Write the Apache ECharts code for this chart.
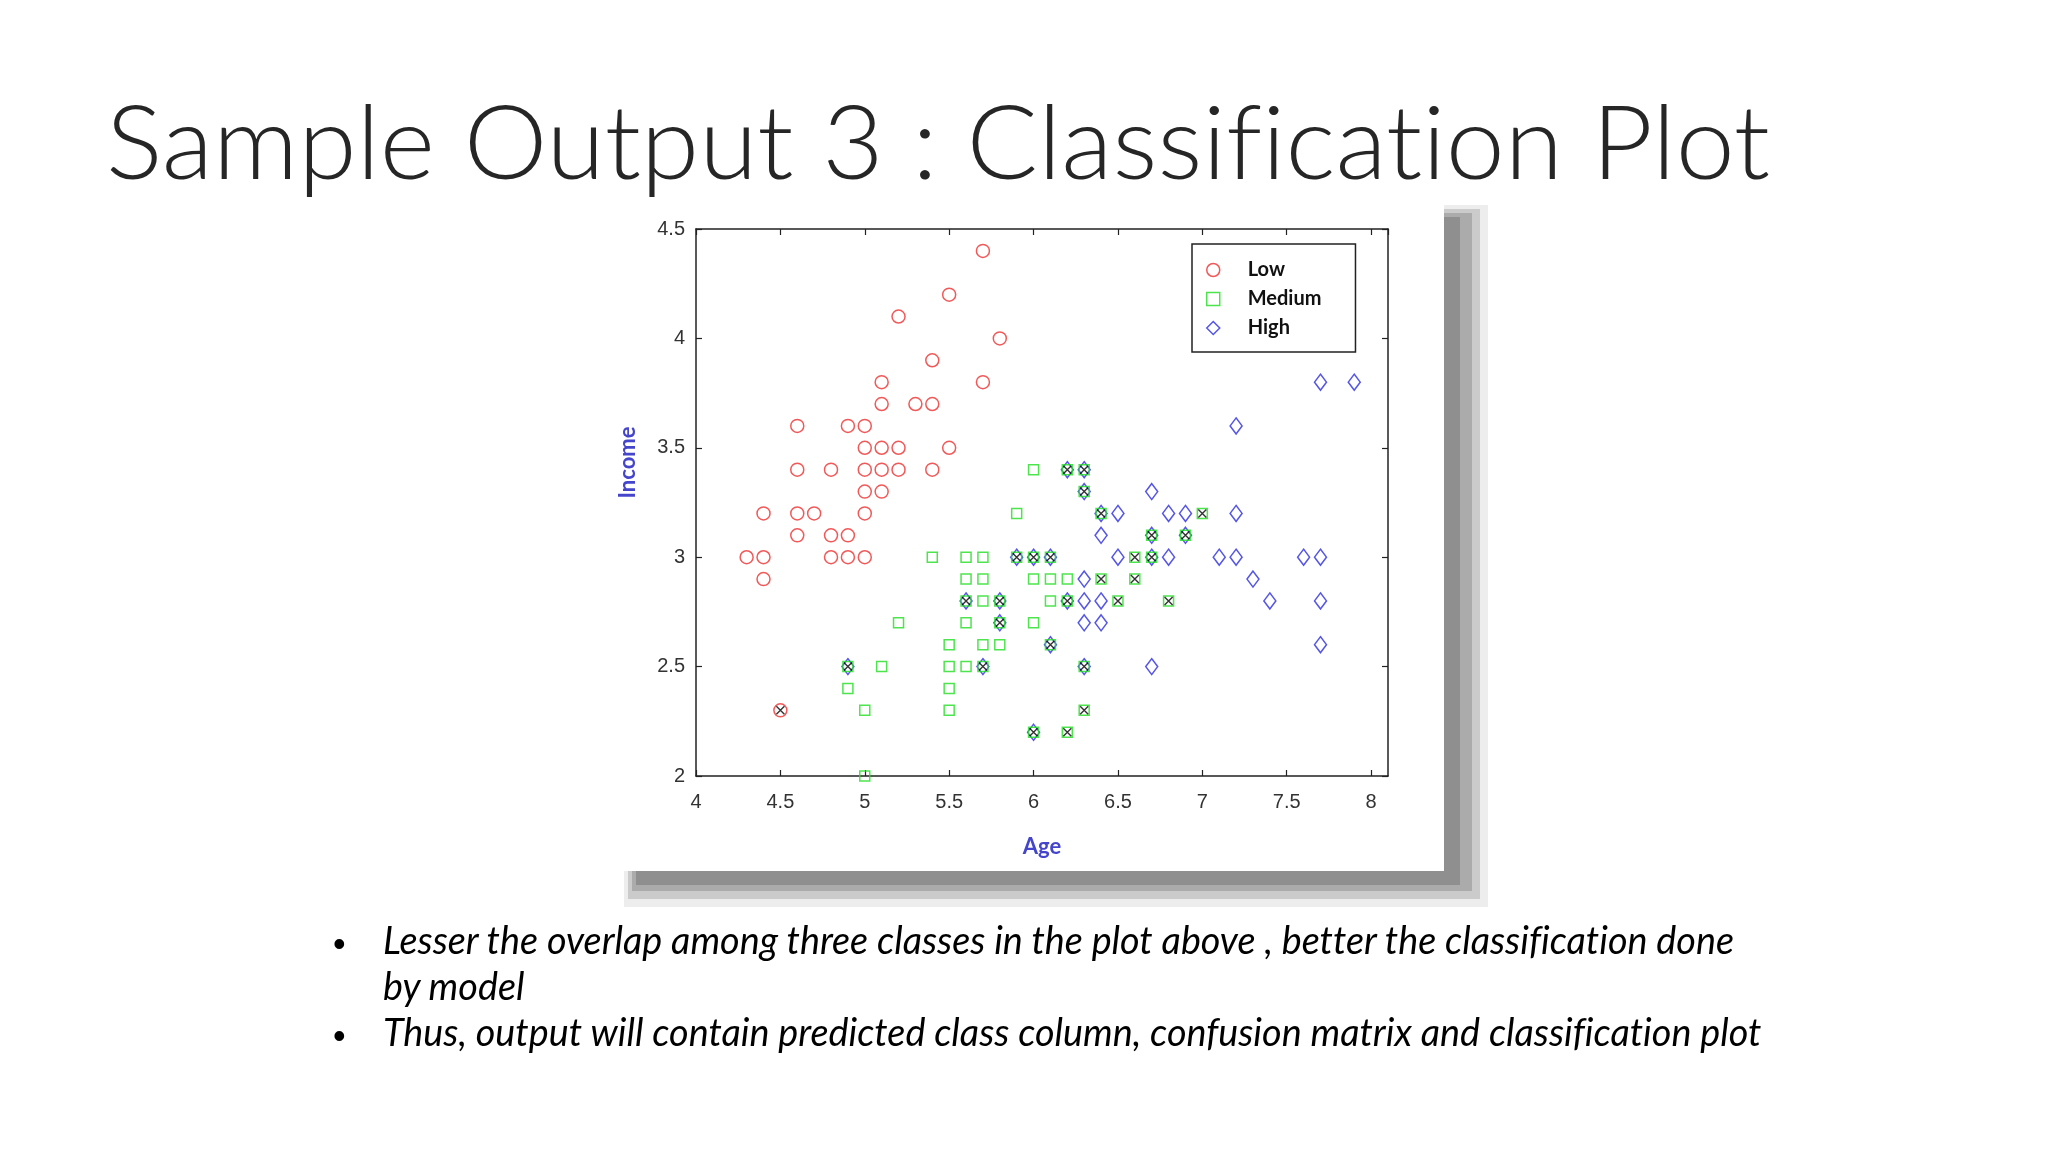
<!DOCTYPE html>
<html>
<head>
<meta charset="utf-8">
<script src="https://cdn.jsdelivr.net/npm/echarts@6/dist/echarts.min.js"></script>
<style>
html,body{margin:0;padding:0;background:#fff;}
#wrap{position:relative;width:2048px;height:1152px;overflow:hidden;}
#chart{position:absolute;left:0;top:0;width:2048px;height:1152px;}
.txt{position:absolute;white-space:nowrap;font-family:Lato;line-height:1;
     font-variant-ligatures:none;font-feature-settings:"liga" 0,"dlig" 0,"clig" 0;transform-origin:0 0;}
#title{font-weight:300;font-size:102px;color:#262626;}
.bl{font-style:italic;font-size:39px;color:#000;}
.dot{position:absolute;font-family:'Liberation Sans';font-size:36px;line-height:1;color:#000;}
</style>
</head>
<body>
<div id="wrap">
<div id="chart"></div>
</div>
<script>
// ---- Data (Age, Income) ----
const classNames = ['Low', 'Medium', 'High'];
const xTicks = [4, 4.5, 5, 5.5, 6, 6.5, 7, 7.5, 8];
const yTicks = [2, 2.5, 3, 3.5, 4, 4.5];

const lowPoints = [
  [5.7,4.4],[5.5,4.2],[5.2,4.1],[5.8,4.0],[5.4,3.9],[5.7,3.8],[5.1,3.8],[5.1,3.7],[5.3,3.7],[5.4,3.7],
  [4.6,3.6],[4.9,3.6],[5.0,3.6],[5.0,3.5],[5.1,3.5],[5.2,3.5],[5.5,3.5],[4.6,3.4],[4.8,3.4],[5.0,3.4],
  [5.1,3.4],[5.2,3.4],[5.4,3.4],[5.0,3.3],[5.1,3.3],[4.4,3.2],[4.6,3.2],[4.7,3.2],[5.0,3.2],[4.6,3.1],
  [4.8,3.1],[4.9,3.1],[4.3,3.0],[4.4,3.0],[4.8,3.0],[4.9,3.0],[5.0,3.0],[4.4,2.9]
];
const lowMisclassified = [[4.5,2.3]];

const mediumPoints = [
  [6.0,3.4],[5.9,3.2],[5.4,3.0],[5.6,3.0],[5.7,3.0],[5.6,2.9],[5.7,2.9],[6.0,2.9],[6.1,2.9],[6.2,2.9],
  [5.7,2.8],[6.1,2.8],[5.2,2.7],[5.6,2.7],[6.0,2.7],[5.5,2.6],[5.7,2.6],[5.8,2.6],[5.1,2.5],[5.5,2.5],
  [5.6,2.5],[4.9,2.4],[5.5,2.4],[5.0,2.3],[5.5,2.3],[5.0,2.0]
];
// medium points predicted as high (diamond + square + cross)
const mediumAsHigh = [
  [6.2,3.4],[6.3,3.4],[6.3,3.3],[6.4,3.2],[6.7,3.1],[6.9,3.1],[5.9,3.0],[6.0,3.0],[6.1,3.0],[6.7,3.0],
  [5.6,2.8],[5.8,2.8],[6.2,2.8],[5.8,2.7],[6.1,2.6],[4.9,2.5],[5.7,2.5],[6.3,2.5],[6.0,2.2]
];
// high points predicted as medium (square + cross)
const highAsMedium = [
  [7.0,3.2],[6.6,3.0],[6.4,2.9],[6.6,2.9],[6.5,2.8],[6.8,2.8],[6.3,2.3],[6.2,2.2]
];
const highPoints = [
  [7.7,3.8],[7.9,3.8],[7.2,3.6],[6.7,3.3],[6.5,3.2],[6.8,3.2],[6.9,3.2],[7.2,3.2],[6.4,3.1],[6.5,3.0],
  [6.8,3.0],[7.1,3.0],[7.2,3.0],[7.6,3.0],[7.7,3.0],[6.3,2.9],[7.3,2.9],[6.3,2.8],[6.4,2.8],[7.4,2.8],
  [7.7,2.8],[6.3,2.7],[6.4,2.7],[7.7,2.6],[6.7,2.5]
];

const titleText = 'Sample Output 3 : Classification Plot';
const bulletLines = [
  'Lesser the overlap among three classes in the plot above , better the classification done',
  'by model',
  'Thus, output will contain predicted class column, confusion matrix and classification plot'
];
const bulletOn = [true, false, true];
const xName = 'Age';
const yName = 'Income';

// ---- slide text (real HTML text, fitted to the reference widths) ----
const wrap = document.getElementById('wrap');
function addText(cls, text, left, top) {
  const d = document.createElement('div');
  d.className = 'txt ' + cls;
  d.textContent = text;
  d.style.left = left + 'px';
  d.style.top = top + 'px';
  wrap.appendChild(d);
  return d;
}
const titleEl = addText('', titleText, 106, 89);
titleEl.id = 'title';
const tw = titleEl.getBoundingClientRect().width;
titleEl.style.transform = 'scaleX(' + (1664 / tw) + ')';

const bulletTops = [920, 966, 1012];
let bScale = 1;
bulletLines.forEach((t, i) => {
  const el = addText('bl', t, 383, bulletTops[i]);
  if (i === 0) bScale = 1351 / el.getBoundingClientRect().width;
  el.style.transform = 'scaleX(' + bScale + ')';
  if (bulletOn[i]) {
    const dot = document.createElement('div');
    dot.className = 'dot';
    dot.textContent = '\u2022';
    dot.style.left = '333px';
    dot.style.top = (bulletTops[i] + 6) + 'px';
    wrap.appendChild(dot);
  }
});

// ---- chart ----
const RED = '#ee3030', GREEN = '#22dd22', BLUE = '#2a2ae0', LABEL_BLUE = '#4545cc';
const tickLabelStyle = { fontFamily: 'Liberation Sans', fontSize: 20, color: '#333' };
const isHalf = v => Math.abs(v * 2 - Math.round(v * 2)) < 1e-6;

const chart = echarts.init(document.getElementById('chart'), null, { renderer: 'canvas' });

const baseX = {
  type: 'value', min: xTicks[0], max: 8.1, interval: 0.5,
  axisLine: { show: true, lineStyle: { color: '#222', width: 1.5 } },
  axisTick: { show: true, inside: true, length: 6, lineStyle: { color: '#222', width: 1.2 } },
  splitLine: { show: false }
};
const baseY = {
  type: 'value', min: yTicks[0], max: yTicks[yTicks.length - 1], interval: 0.5,
  axisLine: { show: true, lineStyle: { color: '#222', width: 1.5 } },
  axisTick: { show: true, inside: true, length: 6, lineStyle: { color: '#222', width: 1.2 } },
  splitLine: { show: false }
};

const graphics = [
  // drop shadow of the figure panel
  { type: 'rect', z: -10, shape: { x: 624, y: 205, width: 864, height: 702 }, style: { fill: '#ededed' }, silent: true },
  { type: 'rect', z: -10, shape: { x: 628, y: 209, width: 852, height: 690 }, style: { fill: '#cbcbcb' }, silent: true },
  { type: 'rect', z: -10, shape: { x: 632, y: 213, width: 840, height: 678 }, style: { fill: '#ababab' }, silent: true },
  { type: 'rect', z: -10, shape: { x: 636, y: 217, width: 824, height: 668 }, style: { fill: '#8f8f8f' }, silent: true },
  // white figure panel
  { type: 'rect', z: -10, shape: { x: 605, y: 198, width: 839, height: 673 }, style: { fill: '#ffffff' }, silent: true }
];

const option = {
  animation: false,
  backgroundColor: '#ffffff',
  graphic: graphics,
  grid: { left: 696, top: 229, width: 692, height: 547, containLabel: false },
  legend: {
    orient: 'vertical', left: 1192, top: 244,
    data: [
      { name: classNames[0], icon: 'circle' },
      { name: classNames[1], icon: 'rect' },
      { name: classNames[2], icon: 'diamond' }
    ],
    itemWidth: 13, itemHeight: 13, itemGap: 9,
    padding: [16, 34, 14, 14],
    borderColor: '#222', borderWidth: 1.5, backgroundColor: '#fff',
    itemStyle: { borderWidth: 1.5 },
    textStyle: { fontFamily: 'Lato', fontWeight: 'bold', fontSize: 20, color: '#111', padding: [0, 0, 0, 23] },
    selectedMode: false
  },
  xAxis: [
    Object.assign({}, baseX, {
      position: 'bottom',
      name: xName, nameLocation: 'middle', nameGap: 60,
      nameTextStyle: { fontFamily: 'Lato', fontWeight: 'bold', fontSize: 22, color: LABEL_BLUE },
      axisLabel: Object.assign({ margin: 16, showMaxLabel: false, formatter: v => isHalf(v) ? String(v) : '' }, tickLabelStyle)
    }),
    Object.assign({}, baseX, { position: 'top', axisLabel: { show: false } })
  ],
  yAxis: [
    Object.assign({}, baseY, {
      position: 'left',
      name: yName, nameLocation: 'middle', nameGap: 57,
      nameTextStyle: { fontFamily: 'Lato', fontWeight: 'bold', fontSize: 22, color: LABEL_BLUE, padding: [0, 0, 0, 80] },
      axisLabel: Object.assign({ margin: 11 }, tickLabelStyle)
    }),
    Object.assign({}, baseY, { position: 'right', axisLabel: { show: false } })
  ],
  series: [
    {
      name: classNames[2], type: 'scatter', xAxisIndex: 0, yAxisIndex: 0,
      symbol: 'diamond', symbolSize: [12, 16], z: 3,
      itemStyle: { color: 'rgba(0,0,0,0)', borderColor: BLUE, borderWidth: 1.5 },
      data: highPoints.concat(mediumAsHigh)
    },
    {
      name: classNames[0], type: 'scatter', xAxisIndex: 0, yAxisIndex: 0,
      symbol: 'circle', symbolSize: 13, z: 4,
      itemStyle: { color: 'rgba(0,0,0,0)', borderColor: RED, borderWidth: 1.5 },
      data: lowPoints.concat(lowMisclassified)
    },
    {
      name: classNames[1], type: 'scatter', xAxisIndex: 0, yAxisIndex: 0,
      symbol: 'rect', symbolSize: 10, z: 5,
      itemStyle: { color: 'rgba(0,0,0,0)', borderColor: GREEN, borderWidth: 1.5 },
      data: mediumPoints.concat(mediumAsHigh, highAsMedium)
    },
    {
      name: 'Misclassified', type: 'scatter', xAxisIndex: 0, yAxisIndex: 0,
      symbol: 'path://M0 0L10 10M10 0L0 10', symbolSize: 8, z: 6,
      itemStyle: { color: 'none', borderColor: '#000', borderWidth: 1.4 },
      data: lowMisclassified.concat(mediumAsHigh, highAsMedium)
    }
  ]
};
chart.setOption(option);
</script>
</body>
</html>
